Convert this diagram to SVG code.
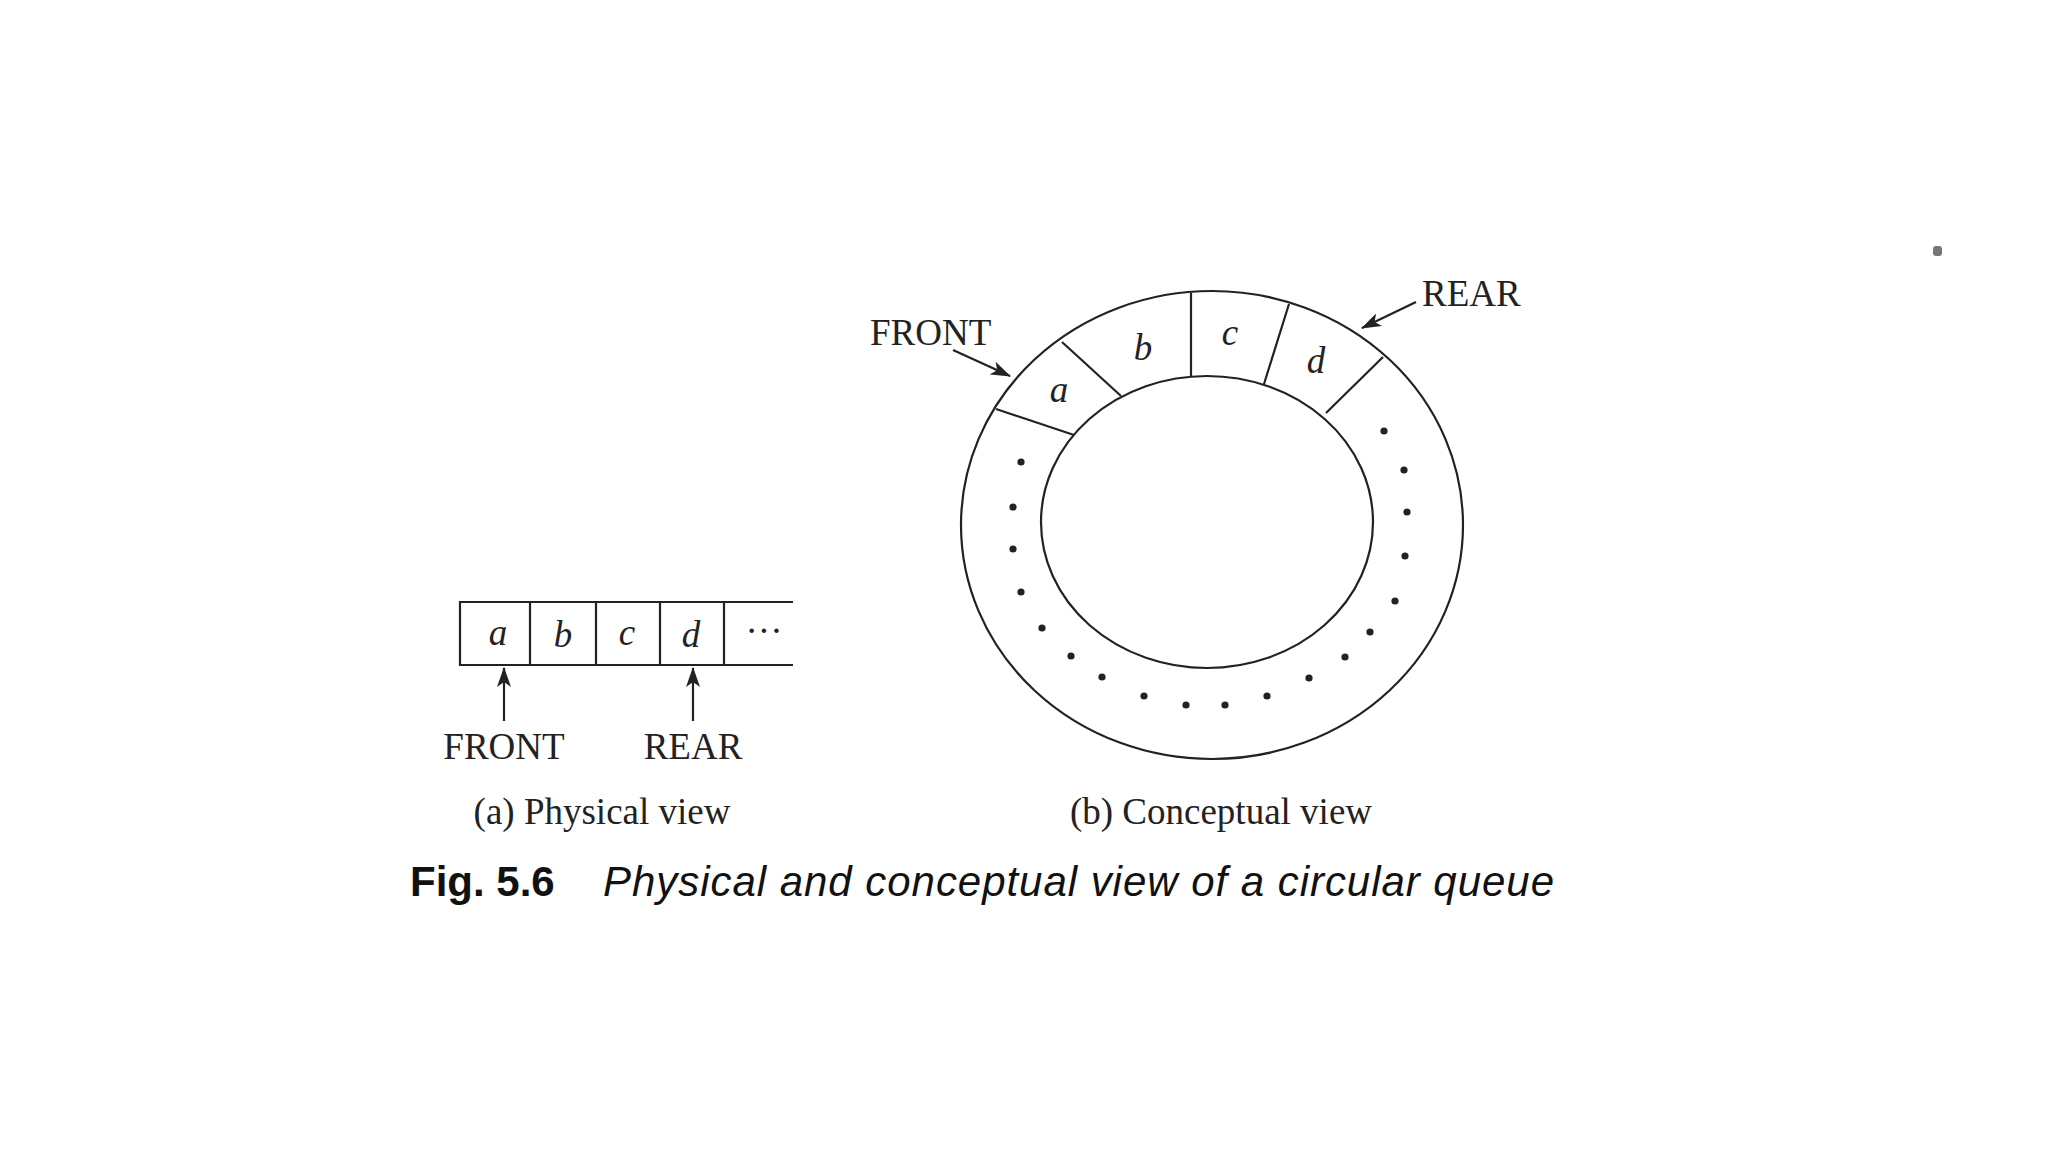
<svg xmlns="http://www.w3.org/2000/svg" width="2048" height="1152" viewBox="0 0 2048 1152">
<style>
.ln{stroke:#222;stroke-width:2.2;fill:none}
.t{font-family:"Liberation Serif",serif;font-size:37px;fill:#222}
.i{font-family:"Liberation Serif",serif;font-style:italic;font-size:37px;fill:#222;text-anchor:middle}
.dot{fill:#222}
</style>
<defs><marker id="ah" markerWidth="20" markerHeight="14" refX="19" refY="7" orient="auto" markerUnits="userSpaceOnUse"><path d="M0,0 L20,7 L0,14 L5,7 z" fill="#222"/></marker></defs>
<rect width="2048" height="1152" fill="#fff"/>
<rect x="1933" y="246" width="9" height="10" rx="3" fill="#777"/>
<g id="physical">
<path class="ln" d="M793,602 H460 V665 H793 M530,602 V665 M596,602 V665 M660,602 V665 M724,602 V665"/>
<text class="i" x="498" y="645">a</text>
<text class="i" x="563" y="647">b</text>
<text class="i" x="627" y="645">c</text>
<text class="i" x="691" y="647">d</text>
<text class="t" x="764" y="643" text-anchor="middle">···</text>
<text class="t" x="504" y="759" text-anchor="middle">FRONT</text>
<text class="t" x="693" y="759" text-anchor="middle">REAR</text>
<text class="t" x="602" y="824" text-anchor="middle">(a) Physical view</text>
</g>
<g id="conceptual">
<ellipse class="ln" cx="1212" cy="525" rx="251" ry="234"/>
<ellipse class="ln" cx="1207" cy="522" rx="166" ry="146"/>
<path class="ln" d="M996,409 L1074,435 M1062,342 L1121,396 M1191,293 L1191,377 M1289,304 L1264,384 M1383,357 L1326,413"/>
<text class="i" x="1059" y="402">a</text>
<text class="i" x="1143" y="360">b</text>
<text class="i" x="1230" y="345">c</text>
<text class="i" x="1316" y="373">d</text>
<text class="t" x="870" y="345">FRONT</text>
<text class="t" x="1422" y="306">REAR</text>
<g class="dot">
<circle cx="1021" cy="462" r="3.6"/><circle cx="1013" cy="507" r="3.6"/><circle cx="1013" cy="549" r="3.6"/><circle cx="1021" cy="592" r="3.6"/><circle cx="1042" cy="628" r="3.6"/><circle cx="1071" cy="656" r="3.6"/><circle cx="1102" cy="677" r="3.6"/><circle cx="1144" cy="696" r="3.6"/><circle cx="1186" cy="705" r="3.6"/><circle cx="1225" cy="705" r="3.6"/><circle cx="1267" cy="696" r="3.6"/><circle cx="1309" cy="678" r="3.6"/><circle cx="1345" cy="657" r="3.6"/><circle cx="1370" cy="632" r="3.6"/><circle cx="1395" cy="601" r="3.6"/><circle cx="1405" cy="556" r="3.6"/><circle cx="1407" cy="512" r="3.6"/><circle cx="1404" cy="470" r="3.6"/><circle cx="1384" cy="431" r="3.6"/>
</g>
<text class="t" x="1221" y="824" text-anchor="middle">(b) Conceptual view</text>
</g>
<g id="connectors">
<line class="ln" x1="504" y1="721" x2="504" y2="668" marker-end="url(#ah)"/>
<line class="ln" x1="693" y1="721" x2="693" y2="668" marker-end="url(#ah)"/>
<line class="ln" x1="953" y1="350" x2="1010" y2="376" marker-end="url(#ah)"/>
<line class="ln" x1="1416" y1="302" x2="1362" y2="328" marker-end="url(#ah)"/>
</g>
<g id="caption" font-family="Liberation Sans,Arial,sans-serif" font-size="42" fill="#111">
<text x="410" y="896" font-weight="bold">Fig. 5.6</text>
<text x="603" y="896" font-style="italic" textLength="951" lengthAdjust="spacing">Physical and conceptual view of a circular queue</text>
</g>
</svg>
